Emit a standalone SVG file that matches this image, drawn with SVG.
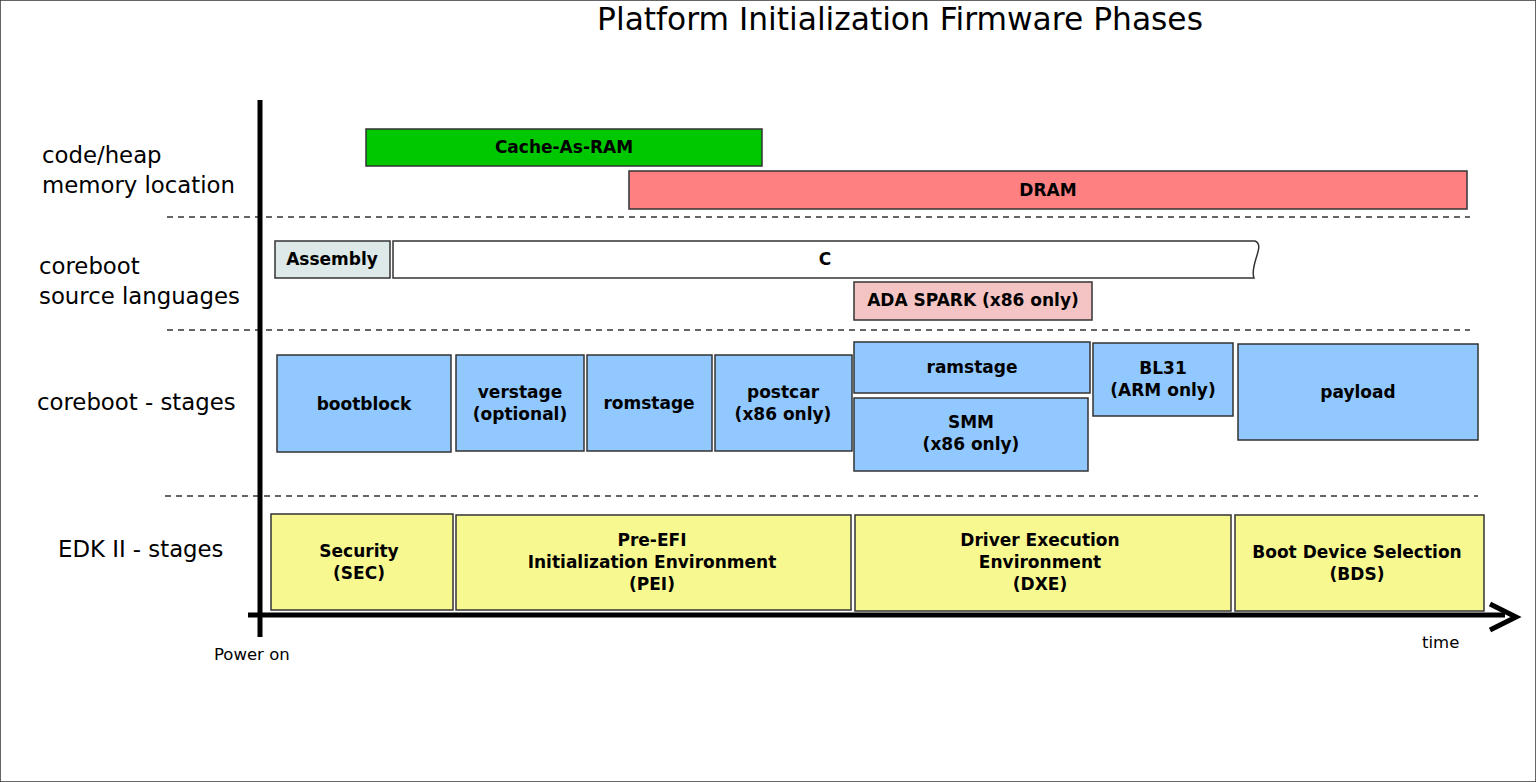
<svg xmlns="http://www.w3.org/2000/svg" width="1536" height="782" viewBox="0 0 1536 782">
<style>
text{font-family:"DejaVu Sans",sans-serif;fill:#000}
.lbl{font-size:22.8px}
.b{font-size:17px;font-weight:bold;text-anchor:middle}
rect{stroke:#333;stroke-width:1.5}
.blue{fill:#90c8ff}.yel{fill:#f8f890}
.dash{stroke:#333;stroke-width:1.5;stroke-dasharray:6,5;fill:none}
</style>
<rect x="0" y="0" width="1536" height="782" fill="#fff" stroke="none"/>
<text x="900" y="30" font-size="31.3" text-anchor="middle">Platform Initialization Firmware Phases</text>
<g id="labels">
<text class="lbl" x="42" y="163">code/heap</text>
<text class="lbl" x="42" y="193">memory location</text>
<text class="lbl" x="39" y="274">coreboot</text>
<text class="lbl" x="39" y="304">source languages</text>
<text class="lbl" x="37" y="410">coreboot - stages</text>
<text class="lbl" x="58" y="557">EDK II - stages</text>
<text x="214" y="660" font-size="16.5">Power on</text>
<text x="1422" y="648" font-size="16.5">time</text>
</g>
<g id="connectors">
<line class="dash" x1="167" y1="217" x2="1470" y2="217"/>
<line class="dash" x1="167" y1="330" x2="1470" y2="330"/>
<line class="dash" x1="165" y1="496" x2="1478" y2="496"/>
<line x1="260" y1="100" x2="260" y2="637" stroke="#000" stroke-width="5"/>
<line x1="248" y1="615" x2="1505" y2="615" stroke="#000" stroke-width="5"/>
<path d="M1490,604 L1516,617 L1490,630" fill="none" stroke="#000" stroke-width="5"/>
</g>
<g id="car"><rect x="366" y="129" width="396" height="37" fill="#00c800"/><text class="b" x="564" y="153">Cache-As-RAM</text></g>
<g id="dram"><rect x="629" y="171" width="838" height="38" fill="#ff8080"/><text class="b" x="1048" y="196">DRAM</text></g>
<g id="asm"><rect x="275" y="241" width="115" height="37" fill="#dde8e8"/><text class="b" x="332" y="265">Assembly</text></g>
<g id="c"><path d="M393,241 H1255 C1266,245 1249,265 1254,278 H393 Z" fill="#fff" stroke="#333" stroke-width="1.5"/><text class="b" x="825" y="265">C</text></g>
<g id="ada"><rect x="854" y="282" width="238" height="38" fill="#f4c4c4"/><text class="b" x="973" y="306">ADA SPARK (x86 only)</text></g>
<g id="bootblock"><rect class="blue" x="277" y="355" width="174" height="97"/><text class="b" x="364" y="410">bootblock</text></g>
<g id="verstage"><rect class="blue" x="456" y="355" width="128" height="96"/><text class="b" x="520" y="398">verstage</text><text class="b" x="520" y="420">(optional)</text></g>
<g id="romstage"><rect class="blue" x="587" y="355" width="125" height="96"/><text class="b" x="649" y="409">romstage</text></g>
<g id="postcar"><rect class="blue" x="715" y="355" width="137" height="96"/><text class="b" x="783" y="398">postcar</text><text class="b" x="783" y="420">(x86 only)</text></g>
<g id="ramstage"><rect class="blue" x="854" y="342" width="236" height="51"/><text class="b" x="972" y="373">ramstage</text></g>
<g id="smm"><rect class="blue" x="854" y="398" width="234" height="73"/><text class="b" x="971" y="428">SMM</text><text class="b" x="971" y="450">(x86 only)</text></g>
<g id="bl31"><rect class="blue" x="1093" y="343" width="140" height="73"/><text class="b" x="1163" y="374">BL31</text><text class="b" x="1163" y="396">(ARM only)</text></g>
<g id="payload"><rect class="blue" x="1238" y="344" width="240" height="96"/><text class="b" x="1358" y="398">payload</text></g>
<g id="sec"><rect class="yel" x="271" y="514" width="182" height="96"/><text class="b" x="359" y="557">Security</text><text class="b" x="359" y="579">(SEC)</text></g>
<g id="pei"><rect class="yel" x="456" y="515" width="395" height="95"/><text class="b" x="652" y="546">Pre-EFI</text><text class="b" x="652" y="568">Initialization Environment</text><text class="b" x="652" y="590">(PEI)</text></g>
<g id="dxe"><rect class="yel" x="855" y="515" width="376" height="96"/><text class="b" x="1040" y="546">Driver Execution</text><text class="b" x="1040" y="568">Environment</text><text class="b" x="1040" y="590">(DXE)</text></g>
<g id="bds"><rect class="yel" x="1235" y="515" width="249" height="96"/><text class="b" x="1357" y="558">Boot Device Selection</text><text class="b" x="1357" y="580">(BDS)</text></g>
</svg>
